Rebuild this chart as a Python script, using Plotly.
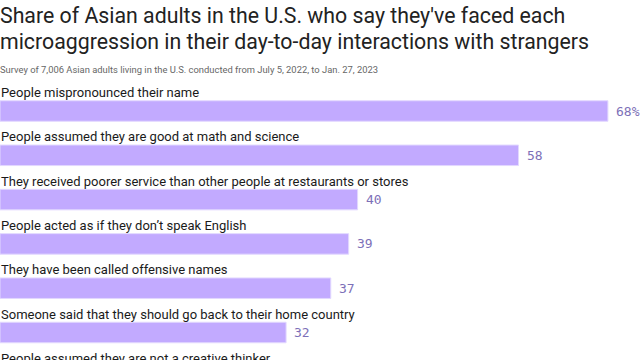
import plotly.graph_objects as go

categories = [
    "People mispronounced their name",
    "People assumed they are good at math and science",
    "They received poorer service than other people at restaurants or stores",
    "People acted as if they don\u2019t speak English",
    "They have been called offensive names",
    "Someone said that they should go back to their home country",
    "People assumed they are not a creative thinker",
]
values = [68, 58, 40, 39, 37, 32, 25]
value_labels = ["68%", "58", "40", "39", "37", "32", "25"]

title_lines = [
    "Share of Asian adults in the U.S. who say they've faced each",
    "microaggression in their day-to-day interactions with strangers",
]
subtitle = "Survey of 7,006 Asian adults living in the U.S. conducted from July 5, 2022, to Jan. 27, 2023"

W, H = 640, 360
ROW = 44.3
ypos = list(range(len(categories)))

fig = go.Figure()
fig.add_trace(go.Bar(
    x=values, y=ypos, orientation="h", width=0.463,
    marker=dict(color="#c2aaff", line=dict(color="#e2d8ff", width=1)),
    hoverinfo="skip",
))

annotations = []
for i, (c, v, t) in enumerate(zip(categories, values, value_labels)):
    annotations.append(dict(x=0, y=i - 18.5 / ROW, xref="x", yref="y", text=c, showarrow=False,
                            xanchor="left", yanchor="middle", xshift=-1,
                            font=dict(family="Roboto", size=13, color="#1a1a1a")))
    annotations.append(dict(x=v, y=i, xref="x", yref="y", text=t, showarrow=False,
                            xanchor="left", yanchor="middle", xshift=6,
                            font=dict(family="DejaVu Sans Mono", size=13, color="#7d70b8")))

for ln, yc in zip(title_lines, [16, 41]):
    annotations.append(dict(x=0, y=1 - yc / H, xref="paper", yref="paper", text=ln,
                            showarrow=False, xanchor="left", yanchor="middle", xshift=-2,
                            font=dict(family="Roboto", size=21.3, color="#222222")))
annotations.append(dict(x=0, y=1 - 69.5 / H, xref="paper", yref="paper", text=subtitle,
                        showarrow=False, xanchor="left", yanchor="middle", xshift=-2,
                        font=dict(family="Roboto", size=9.4, color="#666666")))

fig.update_layout(
    width=W, height=H, margin=dict(l=0, r=0, t=0, b=0),
    paper_bgcolor="white", plot_bgcolor="white",
    xaxis=dict(range=[0, 640 / 8.94], visible=False, fixedrange=True),
    yaxis=dict(range=[(360 - 111) / ROW, -111 / ROW], visible=False, fixedrange=True),
    showlegend=False, annotations=annotations,
)
fig.write_html("out.html", config={"displayModeBar": False},
               post_script="document.body.style.margin='0';document.body.style.padding='0';")
